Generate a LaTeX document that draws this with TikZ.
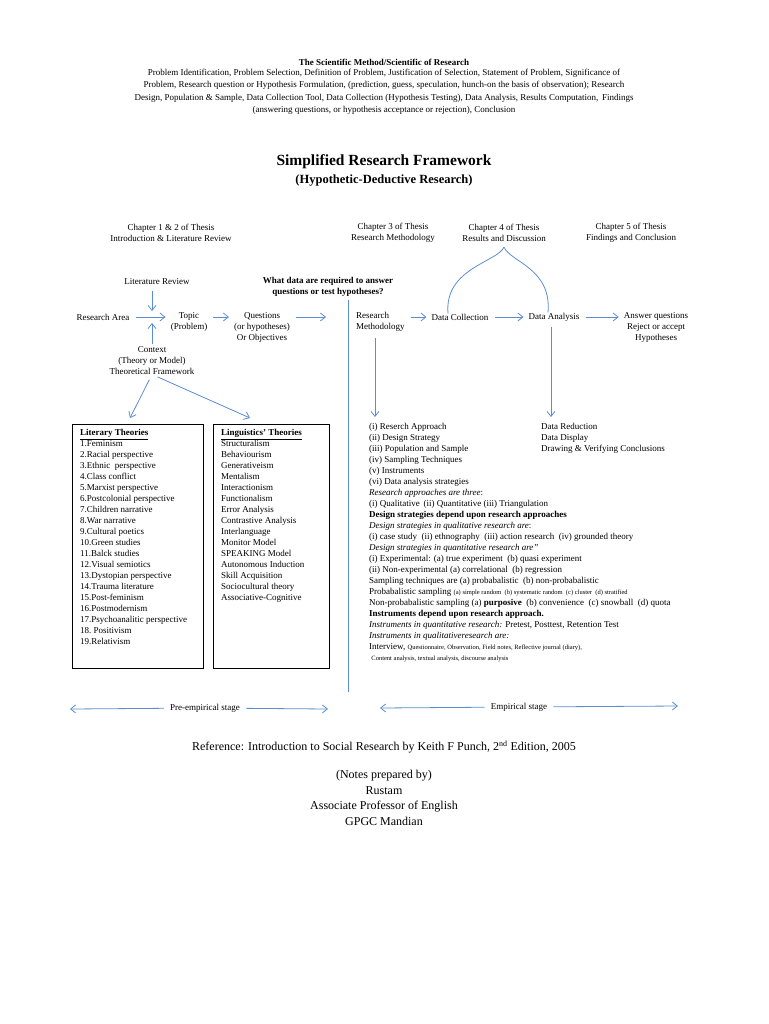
\documentclass[tikz,border=0pt]{standalone}
\usepackage{fontspec}
\setmainfont{Liberation Serif}
\usetikzlibrary{arrows.meta, positioning}
\definecolor{arrowblue}{HTML}{5B8ED1}

\begin{document}
\begin{tikzpicture}[
    x=1pt, y=-1pt,
    txt/.style={inner sep=0pt, font=\fontsize{9}{11}\selectfont, align=center},
    ltxt/.style={txt, align=left, anchor=north west},
    arr/.style={-{Straight Barb[length=5pt,width=8pt]}, arrowblue, thick,
      shorten <=6pt, shorten >=5pt},
    line/.style={arrowblue, thick},
    theorybox/.style={draw, thick, inner sep=0pt},
  ]
    \useasboundingbox (0,0) rectangle (768,1024);

    % --- Header ---
    \node[txt, font=\fontsize{9}{12.4}\selectfont\bfseries] (htitle) at (384,62) {The Scientific Method/Scientific of Research};
    \node[txt, font=\fontsize{9}{12.4}\selectfont, anchor=north] (hsteps) at (384,69) {Problem Identification, Problem Selection, Definition of Problem, Justification of Selection, Statement of Problem, Significance of\\
Problem, Research question or Hypothesis Formulation, (prediction, guess, speculation, hunch-on the basis of observation); Research\\
Design, Population \& Sample, Data Collection Tool, Data Collection (Hypothesis Testing), Data Analysis, Results Computation,\, Findings\\
(answering questions, or hypothesis acceptance or rejection), Conclusion};
    \node[txt, font=\fontsize{15.5}{18}\selectfont\bfseries] (title) at (384,162) {Simplified Research Framework};
    \node[txt, font=\fontsize{12.5}{15}\selectfont\bfseries] (subtitle) at (384,181) {(Hypothetic-Deductive Research)};

    % --- Chapters ---
    \node[txt] (ch12) at (171,233) {Chapter 1 \& 2 of Thesis\\Introduction \& Literature Review};
    \node[txt] (ch3)  at (393,233) {Chapter 3 of Thesis\\Research Methodology};
    \node[txt] (ch4)  at (504,233) {Chapter 4 of Thesis\\Results and Discussion};
    \node[txt] (ch5)  at (631,233) {Chapter 5 of Thesis\\Findings and Conclusion};

    % --- Pre-empirical flow ---
    \node[txt] (litrev)  at (157,282) {Literature Review};
    \node[txt] (area)    at (103,317) {Research Area};
    \node[txt, anchor=north] (topic) at (189,312) {Topic\\(Problem)};
    \node[txt, anchor=north] (context) at (152,346) {Context\\(Theory or Model)\\Theoretical Framework};
    \node[txt, anchor=north] (quest) at (262,312) {Questions\\(or hypotheses)\\Or Objectives};
    \node[txt, font=\fontsize{9}{11}\selectfont\bfseries] (whatdata) at (328,287) {What data are required to answer\\questions or test hypotheses?};
    \coordinate (qend) at (326,317);
    \coordinate (lrend) at (152,311);
    \coordinate (ctxend) at (152,323);

    % --- Empirical flow ---
    \node[ltxt] (method) at (356,312) {Research\\Methodology};
    \node[txt] (collect) at (460,317) {Data Collection};
    \node[txt] (analysis) at (554,317) {Data Analysis};
    \node[txt, anchor=north] (answer) at (656,312) {Answer questions\\Reject or accept\\Hypotheses};
    \coordinate (cusp) at (504,247);

    % --- Lists ---
    \node[ltxt] (steps) at (369,423) {(i) Reserch Approach\\
(ii) Design Strategy\\
(iii) Population and Sample\\
(iv) Sampling Techniques\\
(v) Instruments\\
(vi) Data analysis strategies\\
\textit{Research approaches are three}:\\
(i) Qualitative\,\ (ii) Quantitative (iii) Triangulation\\
\textbf{Design strategies depend upon research approaches}\\
\textit{Design strategies in qualitative research are}:\\
(i) case study\ \ (ii) ethnography\ \ (iii) action research\ \ (iv) grounded theory\\
\textit{Design strategies in quantitative research are''}\\
(i) Experimental: (a) true experiment\ \ (b) quasi experiment\\
(ii) Non-experimental (a) correlational\ \ (b) regression\\
Sampling techniques are (a) probabalistic\ \ (b) non-probabalistic\\
Probabalistic sampling {\fontsize{6.5}{11}\selectfont(a) simple random\ \ (b) systematic random\ \ (c) cluster\ \ (d) stratified}\\
Non-probabalistic sampling (a) \textbf{purposive}\ \ (b) convenience\ \ (c) snowball\ \ (d) quota\\
\textbf{Instruments depend upon research approach.}\\
\textit{Instruments in quantitative research:} Pretest, Posttest, Retention Test\\
\textit{Instruments in qualitativeresearch are:}\\
Interview, {\fontsize{6.5}{11}\selectfont Questionnaire, Observation, Field notes, Reflective journal (diary),}\\
\ {\fontsize{6.5}{11}\selectfont Content analysis, textual analysis, discourse analysis}};
    \node[ltxt] (dataops) at (541,423) {Data Reduction\\Data Display\\Drawing \& Verifying Conclusions};

    % --- Theory boxes ---
    \node[theorybox, minimum width=131pt, minimum height=244pt, anchor=north west] (litbox) at (72,424) {};
    \node[theorybox, minimum width=116pt, minimum height=244pt, anchor=north west] (lingbox) at (213,424) {};
    \node[ltxt] (littheo) at (80,429) {\textbf{\underline{Literary Theories}}\\
1.Feminism\\2.Racial perspective\\3.Ethnic\ \ perspective\\4.Class conflict\\5.Marxist perspective\\
6.Postcolonial perspective\\7.Children narrative\\8.War narrative\\9.Cultural poetics\\10.Green studies\\
11.Balck studies\\12.Visual semiotics\\13.Dystopian perspective\\14.Trauma literature\\15.Post-feminism\\
16.Postmodernism\\17.Psychoanalitic perspective\\18.\ Positivism\\19.Relativism};
    \node[ltxt] (lingtheo) at (221,429) {\textbf{\underline{Linguistics' Theories}}\\
Structuralism\\Behaviourism\\Generativeism\\Mentalism\\Interactionism\\Functionalism\\Error Analysis\\
Contrastive Analysis\\Interlanguage\\Monitor Model\\SPEAKING Model\\Autonomous Induction\\
Skill Acquisition\\Sociocultural theory\\Associative-Cognitive};

    % --- Stages ---
    \node[txt] (prestage) at (205,708) {Pre-empirical stage};
    \node[txt] (empstage) at (519,707) {Empirical stage};
    \coordinate (preL) at (70,709);
    \coordinate (preR) at (328,709);
    \coordinate (empL) at (380,708);
    \coordinate (empR) at (678,706);
    \coordinate (divtop) at (348,300);
    \coordinate (divbot) at (348,692);

    % --- Footer ---
    \node[txt, font=\fontsize{12}{15}\selectfont] (ref) at (384,747) {Reference: Introduction to Social Research by Keith F Punch, 2\textsuperscript{nd} Edition, 2005};
    \node[txt, font=\fontsize{12}{15.6}\selectfont, anchor=north] (notes) at (384,770) {(Notes prepared by)\\Rustam\\Associate Professor of English\\GPGC Mandian};

    % --- Arrows ---
    \draw[arr, shorten >=0pt] (litrev.south -| lrend) -- (lrend);
    \draw[arr] (area) -- (topic.west |- area);
    \draw[arr, shorten <=2pt, shorten >=0pt] (context.north -| ctxend) -- (ctxend);
    \draw[arr] (topic.east |- area) -- (quest.west |- area);
    \draw[arr, shorten >=0pt] (quest.east |- area) -- (qend);
    \draw[arr] (method.east |- collect) -- (collect);
    \draw[arr] (collect) -- (analysis);
    \draw[arr] (analysis) -- (answer.west |- analysis);
    \draw[arr, shorten >=0pt] (method.south -| 375,0) -- (375,417);
    \draw[arr, shorten >=0pt] (analysis.south -| 551,0) -- (551,417);
    \draw[arr, shorten >=0pt] (context.south) -- (130,418);
    \draw[arr, shorten >=0pt] (context.south) -- (250,418);
    \draw[line] (collect.north -| 448,0) .. controls (444,268) and (498,262) .. (cusp);
    \draw[line] (cusp) .. controls (510,262) and (552,268) .. (analysis.north -| 548,0);
    \draw[line] (divtop) -- (divbot);
    \draw[arr, shorten >=0pt] (prestage) -- (preL);
    \draw[arr, shorten >=0pt] (prestage) -- (preR);
    \draw[arr, shorten >=0pt] (empstage) -- (empL);
    \draw[arr, shorten >=0pt] (empstage) -- (empR);
  \end{tikzpicture}
\end{document}
